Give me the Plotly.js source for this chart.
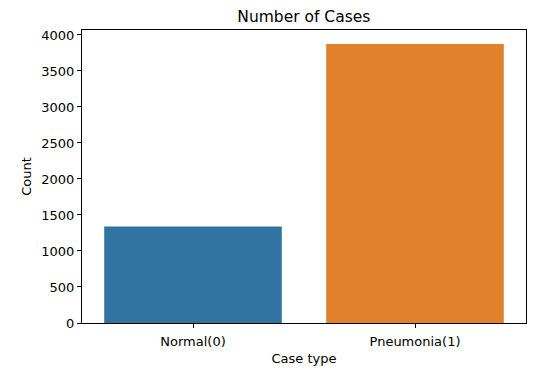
<!DOCTYPE html>
<html>
<head>
<meta charset="utf-8">
<script src="https://cdn.plot.ly/plotly-3.0.1.min.js"></script>
<style>html,body{margin:0;padding:0;background:#fff;}#chart{width:545px;height:376px;}</style>
</head>
<body>
<div id="chart"></div>
<script>
const categories = ["Normal(0)", "Pneumonia(1)"];
const counts = [1341, 3875];
const barColors = ["#3274a1", "#e1812c"];
const yTicks = [0, 500, 1000, 1500, 2000, 2500, 3000, 3500, 4000];

const trace = {
  type: "bar",
  x: categories,
  y: counts,
  width: 0.8,
  marker: {color: barColors, line: {width: 0}},
  hoverinfo: "x+y"
};

const font = {family: "DejaVu Sans, sans-serif", color: "#000", size: 13};
const layout = {
  width: 545, height: 376,
  margin: {l: 82, r: 19, t: 30, b: 53, pad: 0},
  paper_bgcolor: "#fff", plot_bgcolor: "#fff",
  font: font,
  showlegend: false,
  title: {text: "Number of Cases", font: {family: "DejaVu Sans, sans-serif", size: 15.5, color: "#000"}, x: 0.5575, xanchor: "center", y: 0.955, yanchor: "middle"},
  xaxis: {
    type: "category", range: [-0.5, 1.5],
    showline: true, linecolor: "#000", linewidth: 1, mirror: true,
    ticks: "outside", ticklen: 4, tickcolor: "#000", tickwidth: 1,
    ticklabelstandoff: 2,
    showgrid: false, zeroline: false,
    tickfont: font,
    title: {text: "Case type", font: font, standoff: 6}
  },
  yaxis: {
    range: [0, Math.max(...counts) * 1.05],
    tickvals: yTicks, ticktext: yTicks.map(String),
    showline: true, linecolor: "#000", linewidth: 1, mirror: true,
    ticks: "outside", ticklen: 4, tickcolor: "#000", tickwidth: 1,
    showgrid: false, zeroline: false,
    tickfont: font,
    title: {text: "Count", font: font, standoff: 6}
  },
  bargap: 0.2
};

Plotly.newPlot("chart", [trace], layout, {displayModeBar: false, staticPlot: true});
</script>
</body>
</html>
